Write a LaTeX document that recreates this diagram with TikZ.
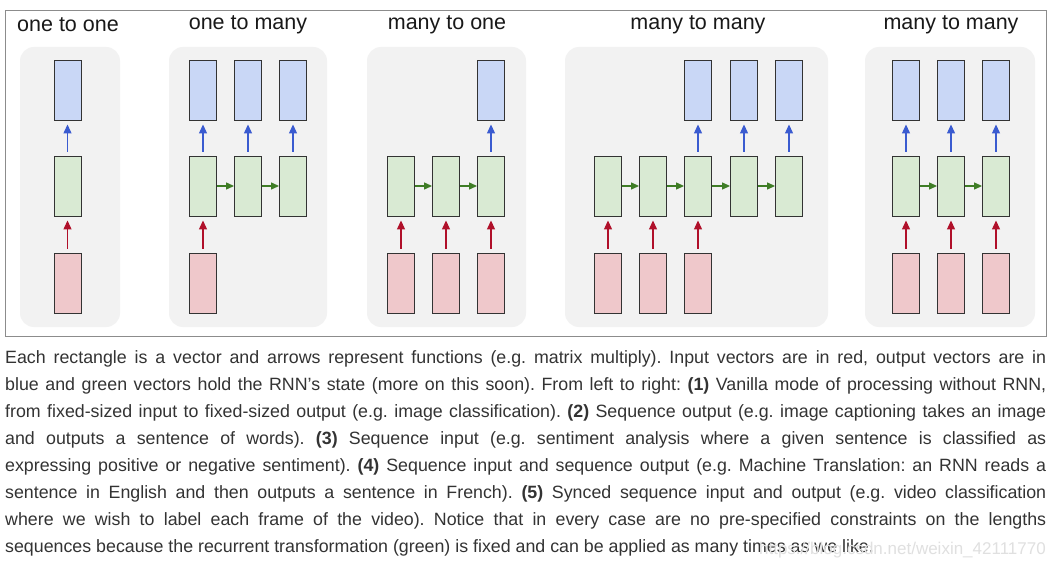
\documentclass[tikz,border=0pt]{standalone}
\usepackage{fontspec}
\setmainfont{Liberation Sans}
\usetikzlibrary{arrows.meta}
\definecolor{pan}{HTML}{F2F2F2}
\definecolor{bf}{HTML}{C9D7F6}
\definecolor{gf}{HTML}{D9EAD3}
\definecolor{rf}{HTML}{EFC8CB}
\definecolor{ba}{HTML}{3A5BD0}
\definecolor{ra}{HTML}{B0102A}
\definecolor{ga}{HTML}{3F7D26}
\definecolor{txt}{HTML}{333333}
\begin{document}
\begin{tikzpicture}[x=1pt,y=-1pt,
  panel/.style={fill=pan,rounded corners=14pt,draw=none},
  vec/.style={draw=black!80,line width=0.9pt,minimum width=27pt,minimum height=60pt,inner sep=0pt},
  bv/.style={vec,fill=bf}, gv/.style={vec,fill=gf}, rv/.style={vec,fill=rf},
  up/.style={line width=1.2pt,-{Triangle[length=9pt,width=8pt]},shorten <=4pt,shorten >=4pt},
  ra/.style={up,draw=ra,fill=ra}, baa/.style={up,draw=ba,fill=ba},
  gaa/.style={line width=1.2pt,draw=ga,-{Triangle[length=8pt,width=7pt]},fill=ga},
  ttl/.style={font=\fontsize{21.5}{24}\selectfont,anchor=center,text=black!90}]
\useasboundingbox (0,0) rectangle (1054,564);
\fill[white] (0,0) rectangle (1054,564);
\draw[black!45,line width=0.8pt] (5,10) rectangle (1046,336);
\fill[panel] (20,47) rectangle (120,327);
\fill[panel] (169,47) rectangle (327,327);
\fill[panel] (367,47) rectangle (526,327);
\fill[panel] (565,47) rectangle (828,327);
\fill[panel] (865,47) rectangle (1035,327);
\node[ttl] (t1) at (68,25) {one to one};
\node[ttl] (t2) at (248,25) {one to many};
\node[ttl] (t3) at (447,25) {many to one};
\node[ttl] (t4) at (698,25) {many to many};
\node[ttl] (t5) at (951,25) {many to many};
% panel 1
\node[bv] (b11) at (67.5,90) {}; \node[gv] (g11) at (67.5,186) {}; \node[rv] (r11) at (67.5,283) {};
\draw[ra] (r11) -- (g11); \draw[baa] (g11) -- (b11);
% panel 2
\foreach \i/\x in {1/203,2/248,3/293}{
 \node[bv] (b2\i) at (\x,90) {}; \node[gv] (g2\i) at (\x,186) {};
 \draw[baa] (g2\i) -- (b2\i);}
\node[rv] (r21) at (203,283) {}; \draw[ra] (r21) -- (g21);
\draw[gaa] (g21) -- (g22); \draw[gaa] (g22) -- (g23);
% panel 3
\foreach \i/\x in {1/401,2/446,3/491}{
 \node[gv] (g3\i) at (\x,186) {}; \node[rv] (r3\i) at (\x,283) {};
 \draw[ra] (r3\i) -- (g3\i);}
\node[bv] (b33) at (491,90) {}; \draw[baa] (g33) -- (b33);
\draw[gaa] (g31) -- (g32); \draw[gaa] (g32) -- (g33);
% panel 4
\foreach \i/\x in {1/608,2/653,3/698,4/744,5/789}{\node[gv] (g4\i) at (\x,186) {};}
\foreach \i/\x in {1/608,2/653,3/698}{\node[rv] (r4\i) at (\x,283) {}; \draw[ra] (r4\i) -- (g4\i);}
\foreach \i/\x in {3/698,4/744,5/789}{\node[bv] (b4\i) at (\x,90) {}; \draw[baa] (g4\i) -- (b4\i);}
\draw[gaa] (g41) -- (g42); \draw[gaa] (g42) -- (g43); \draw[gaa] (g43) -- (g44); \draw[gaa] (g44) -- (g45);
% panel 5
\foreach \i/\x in {1/906,2/951,3/996}{
 \node[bv] (b5\i) at (\x,90) {}; \node[gv] (g5\i) at (\x,186) {}; \node[rv] (r5\i) at (\x,283) {};
 \draw[baa] (g5\i) -- (b5\i); \draw[ra] (r5\i) -- (g5\i);}
\draw[gaa] (g51) -- (g52); \draw[gaa] (g52) -- (g53);
% caption
\node[anchor=north west,inner sep=0pt,text width=1041pt,align=justify,text=txt,
  font=\fontsize{17.8}{27}\selectfont\frenchspacing] (cap) at (5,350)
{Each rectangle is a vector and arrows represent functions (e.g. matrix multiply). Input vectors are in red, output vectors are in\linebreak
blue and green vectors hold the RNN's state (more on this soon). From left to right: \textbf{(1)} Vanilla mode of processing without RNN,\linebreak
from fixed-sized input to fixed-sized output (e.g. image classification). \textbf{(2)} Sequence output (e.g. image captioning takes an image\linebreak
and outputs a sentence of words). \textbf{(3)} Sequence input (e.g. sentiment analysis where a given sentence is classified as\linebreak
expressing positive or negative sentiment). \textbf{(4)} Sequence input and sequence output (e.g. Machine Translation: an RNN reads a\linebreak
sentence in English and then outputs a sentence in French). \textbf{(5)} Synced sequence input and output (e.g. video classification\linebreak
where we wish to label each frame of the video). Notice that in every case are no pre-specified constraints on the lengths\linebreak
sequences because the recurrent transformation (green) is fixed and can be applied as many times as we like.\par};
\node[anchor=base east,text=black!12,font=\fontsize{17}{18}\selectfont,inner sep=0pt] (wm) at (1046,554) {https://blog.csdn.net/weixin\_42111770};
\end{tikzpicture}
\end{document}
